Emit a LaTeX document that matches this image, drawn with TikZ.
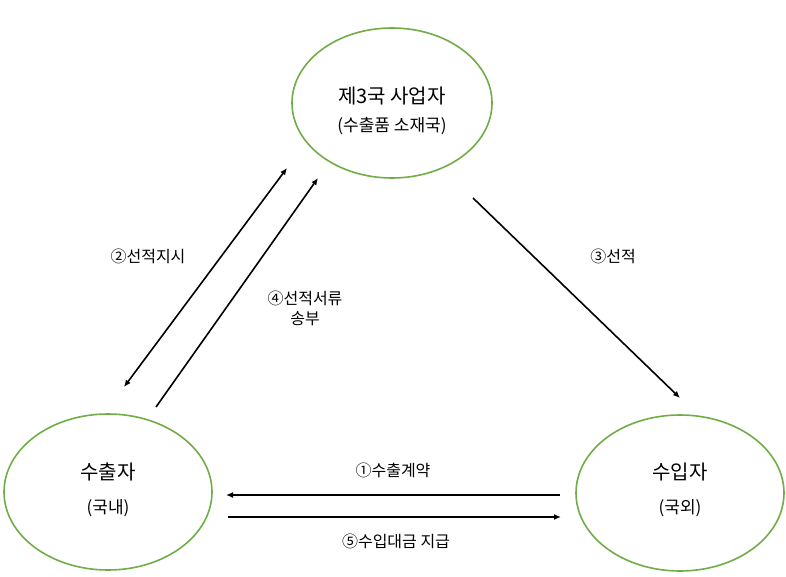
\documentclass[tikz,border=0pt]{standalone}
\usepackage{fontspec}
\setmainfont{Noto Sans CJK KR}
\usetikzlibrary{arrows.meta}
\tikzset{
  party/.style={draw=green!45!gray!90!black,line width=1.6pt,ellipse,inner sep=0pt},
  flow/.style={line width=1.6pt,-{Latex[length=7pt,width=6pt]}},
  flowlabel/.style={font=\fontsize{16}{20}\selectfont,align=center,inner sep=0pt}
}
\usetikzlibrary{shapes.geometric}
\definecolor{partyColor}{RGB}{112,173,71}
\begin{document}
\begin{tikzpicture}[x=1pt,y=-1pt]
\path[use as bounding box,fill=white] (0,0) rectangle (786,577);

% parties
\node[party,draw=partyColor,minimum width=200pt,minimum height=150pt] (third) at (392,103) {};
\node[party,draw=partyColor,minimum width=208pt,minimum height=156pt] (exporter) at (108,492) {};
\node[party,draw=partyColor,minimum width=208pt,minimum height=156pt] (importer) at (680,493) {};

\node[font=\fontsize{20}{24}\selectfont] (thirdname) at (392,96) {제3국 사업자};
\node[font=\fontsize{17}{20}\selectfont] (thirdsub) at (392,126) {(수출품 소재국)};
\node[font=\fontsize{20}{24}\selectfont] (expname) at (108,472) {수출자};
\node[font=\fontsize{17}{20}\selectfont] (expsub) at (108,508) {(국내)};
\node[font=\fontsize{20}{24}\selectfont] (impname) at (680,472) {수입자};
\node[font=\fontsize{17}{20}\selectfont] (impsub) at (680,508) {(국외)};

% connector ends
\coordinate (a2s) at (287,168);
\coordinate (a2e) at (124,387);
\coordinate (a4s) at (156,407);
\coordinate (a4e) at (318,178);
\coordinate (a3s) at (473,198);
\coordinate (a3e) at (680,398);
\coordinate (a1s) at (560,495);
\coordinate (a1e) at (226,495);
\coordinate (a5s) at (228,517);
\coordinate (a5e) at (561,517);

\draw[flow,{Latex[length=7pt,width=6pt]}-{Latex[length=7pt,width=6pt]}] (a2s) -- (a2e);
\draw[flow] (a4s) -- (a4e);
\draw[flow] (a3s) -- (a3e);
\draw[flow] (a1s) -- (a1e);
\draw[flow] (a5s) -- (a5e);

% labels
\node[flowlabel] (l2) at (148,256) {②선적지시};
\node[flowlabel] (l4) at (305,308) {④선적서류\\송부};
\node[flowlabel] (l3) at (613,256) {③선적};
\node[flowlabel] (l1) at (393,470) {①수출계약};
\node[flowlabel] (l5) at (396,541) {⑤수입대금 지급};
\end{tikzpicture}
\end{document}
